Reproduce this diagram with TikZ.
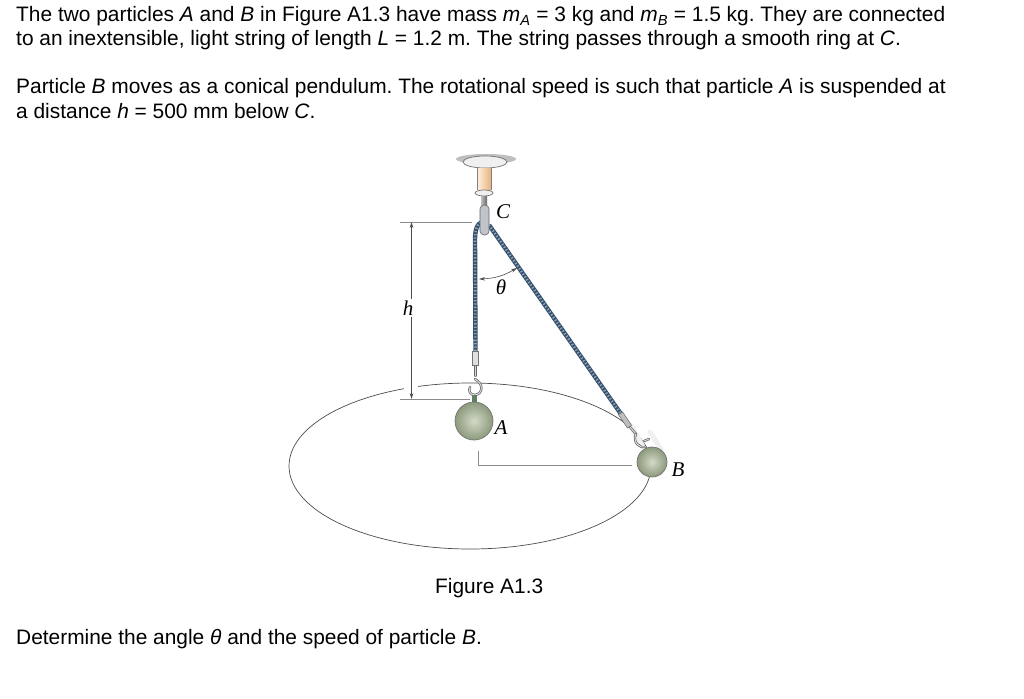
\documentclass[tikz,border=0pt]{standalone}
\usepackage{fontspec}
\setmainfont{Liberation Sans}
\newfontfamily\figfont{Liberation Serif}
\usetikzlibrary{arrows.meta}
\definecolor{ropeblue}{HTML}{35506C}
\definecolor{ropelight}{HTML}{8FA3B5}
\definecolor{dimgray}{HTML}{8A8A8A}
\definecolor{ballgreen}{HTML}{8C9A7C}
\definecolor{ballpale}{HTML}{D3D9C8}
\definecolor{metalgray}{HTML}{BEC4CA}
\definecolor{neckgreen}{HTML}{5E7F62}
\tikzset{
    bodytext/.style={anchor=base west,inner sep=0pt,font=\fontsize{20.9}{24}\selectfont\frenchspacing},
    figlabel/.style={inner sep=0pt,font=\fontsize{21}{24}\selectfont\figfont\itshape},
    dimline/.style={draw=dimgray,line width=0.9pt},
    dimarrow/.style={draw=black!70,line width=0.6pt,{Stealth[length=6pt,width=3.5pt]}-{Stealth[length=6pt,width=3.5pt]}},
    ropeline/.style={draw=ropeblue,line width=4.4pt,postaction={draw=ropelight,line width=2.6pt,dash pattern=on 1.3pt off 2pt}},
    ballshade/.style={circle,draw=black!55,line width=0.7pt,inner color=ballpale,outer color=ballgreen,inner sep=0pt},
    hookline/.style={draw=black!60,line width=2.4pt,line cap=round,postaction={draw=black!15,line width=1pt}},
}
\begin{document}
\begin{tikzpicture}[x=1pt,y=-1pt]
        \useasboundingbox (0,0) rectangle (1024,698);
        \node[bodytext] (line1) at (16,22) {The two particles \textit{A} and \textit{B} in Figure A1.3 have mass \textit{m}\textsubscript{\textit{A}} = 3 kg and \textit{m}\textsubscript{\textit{B}} = 1.5 kg. They are connected};
        \node[bodytext] (line2) at (16,46) {to an inextensible, light string of length \textit{L} = 1.2 m. The string passes through a smooth ring at \textit{C}.};
        \node[bodytext] (line3) at (16,94) {Particle \textit{B} moves as a conical pendulum. The rotational speed is such that particle \textit{A} is suspended at};
        \node[bodytext] (line4) at (16,118) {a distance \textit{h} = 500 mm below \textit{C}.};
        \node[bodytext] (caption) at (435,593) {Figure A1.3};
        \node[bodytext] (question) at (16,644) {Determine the angle \textit{θ} and the speed of particle \textit{B}.};
        % path of B
        \draw[black!70,line width=0.7pt] (470,466) ellipse (181 and 83);
        % ceiling mount
        \fill[black!25] (486,159) ellipse (30 and 5);
        \draw[black!55,fill=black!6,line width=0.7pt] (485,162) ellipse (22 and 6);
        \fill[left color=orange!12,right color=orange!40!brown!60] (477,168) rectangle (491,190);
        \draw[black!50,line width=0.5pt] (477,168) -- (477,190) (491,168) -- (491,190);
        \draw[black!55,fill=black!6,line width=0.7pt] (484,193) ellipse (9 and 3);
        \fill[left color=black!25,right color=black!60] (481,196) rectangle (487,206);
        % strings
        \coordinate (ringleft) at (484,222);
        \coordinate (ringright) at (489,225);
        \coordinate (ferruleA) at (475.5,352);
        \coordinate (ferruleB) at (621,414);
        \draw[ropeline] (ringleft) to[out=180,in=90] (475,240) -- (ferruleA);
        \draw[ropeline] (ringright) -- (ferruleB);
        % ring at C
        \node[draw=black!60,fill=metalgray,rounded corners=4pt,minimum width=9pt,minimum height=30pt,inner sep=0pt,line width=0.6pt] (ring) at (484.5,220) {};
        % particle A
        \node[draw=black!55,fill=black!12,minimum width=6pt,minimum height=14pt,inner sep=0pt,line width=0.5pt] (clampA) at (475.5,358) {};
        \draw[hookline] (475.5,366) -- (475.5,376);
        \draw[white,line width=3pt] (404,388.3) -- (418,386.8);
        \draw[hookline] (475,379) .. controls (484,384) and (483,394) .. (475,395) .. controls (470,395) and (468,391) .. (470,387);
        \fill[neckgreen] (471.5,395) rectangle (476.5,404);
        \node[ballshade,minimum size=38pt] (ballA) at (474,421) {};
        \node[figlabel] (labelA) at (501,428) {A};
        % particle B
        \draw[black!6,line width=6pt,line cap=round] (631,426) -- (642,446);
        \draw[black!6,line width=5pt,line cap=round] (650,432) -- (661,449);
        \draw[black!60,fill=black!25,line width=0.5pt,rotate around={-56:(625,420)}] (617,417.5) rectangle (633,422.5);
        \coordinate (hookB) at (646,447);
        \draw[hookline] (630,427) -- (636,434);
        \draw[hookline] (636,434) .. controls (632,442) and (640,449) .. (hookB);
        \draw[hookline] (644,441) -- (649,439);
        \node[ballshade,minimum size=30pt] (ballB) at (652,462) {};
        \node[figlabel] (labelB) at (678,470) {B};
        % dimensions
        \coordinate (topleft) at (400,222);
        \coordinate (topright) at (472,222);
        \coordinate (botleft) at (400,399);
        \coordinate (botright) at (470,399);
        \coordinate (radcorner) at (478,465);
        \coordinate (radstart) at (478,451);
        \coordinate (radend) at (632,465);
        \draw[dimline] (topleft) -- (topright);
        \draw[dimline] (botleft) -- (botright);
        \draw[dimline] (radstart) -- (radcorner) -- (radend);
        \draw[dimarrow] (411.5,222) -- (411.5,399);
        \node[figlabel,fill=white,inner ysep=2pt] (labelh) at (408,308) {h};
        \coordinate (thetaleft) at (479,279);
        \coordinate (thetaright) at (517,268);
        \draw[dimarrow] (thetaleft) to[bend right=14] (thetaright);
        \node[figlabel] (labeltheta) at (501,287) {θ};
        \node[figlabel] (labelC) at (503,212) {C};
    \end{tikzpicture}
\end{document}
